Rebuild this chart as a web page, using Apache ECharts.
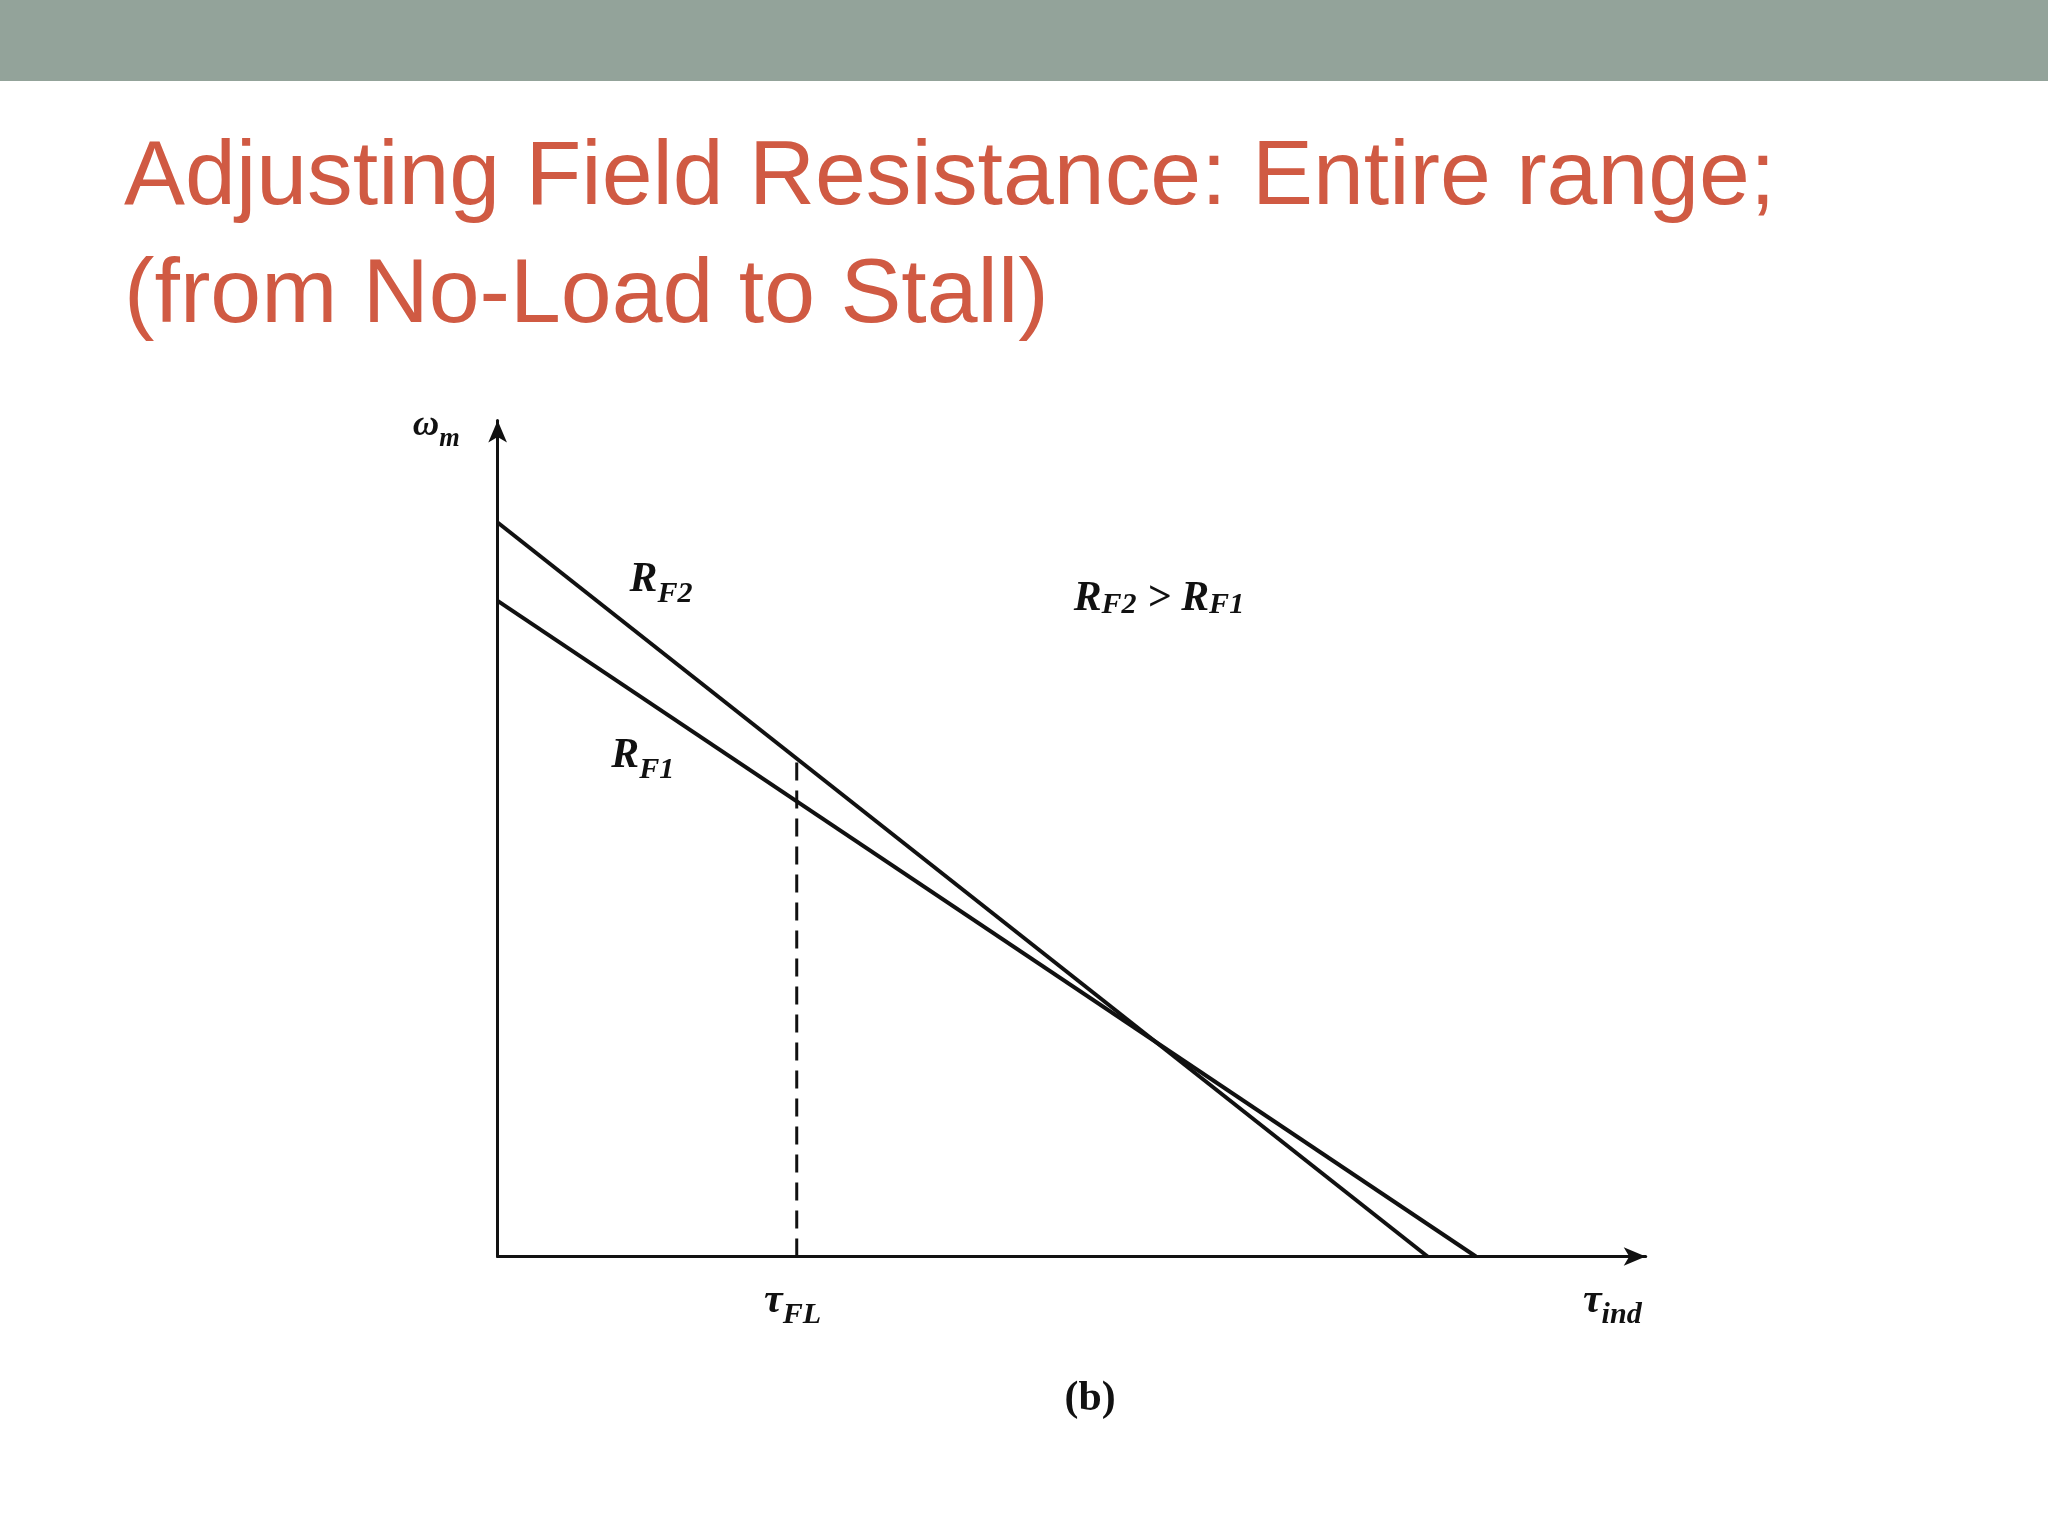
<!DOCTYPE html>
<html><head><meta charset="utf-8">
<script src="https://cdn.jsdelivr.net/npm/echarts@6/dist/echarts.min.js"></script>
<style>html,body{margin:0;padding:0;background:#fff}#c{width:2048px;height:1536px}</style>
</head><body><div id="c"></div>
<script>
const rf2 = [[0,562],[712,0]];
const rf1 = [[0,502],[749,0]];
const tauFL = [[229,0],[229,381]];
const s = 2048/1568;
const chart = echarts.init(document.getElementById('c'));
const serif = '"Liberation Serif","DejaVu Serif",serif';
function sub(x,y,main,subt,size){
  return {type:'text',left:x*s,top:y*s,style:{text:'{m|'+main+'}{s|'+subt+'}',rich:{
    m:{fontFamily:serif,fontStyle:'italic',fontWeight:'bold',fontSize:size*s,fill:'#111'},
    s:{fontFamily:serif,fontStyle:'italic',fontWeight:'bold',fontSize:size*0.72*s,fill:'#111',verticalAlign:'bottom',padding:[0,0,-6*s,0]}}}};
}
chart.setOption({
  animation:false,
  grid:{left:381*s,right:2048-1260*s,top:322*s,bottom:1536-962*s},
  xAxis:{type:'value',min:0,max:879,axisLine:{lineStyle:{color:'#111',width:3},symbol:['none','arrow'],symbolSize:[14,22]},axisTick:{show:false},axisLabel:{show:false},splitLine:{show:false}},
  yAxis:{type:'value',min:0,max:640,axisLine:{show:true,lineStyle:{color:'#111',width:3},symbol:['none','arrow'],symbolSize:[14,22]},axisTick:{show:false},axisLabel:{show:false},splitLine:{show:false}},
  series:[
    {type:'line',data:rf2,symbol:'none',lineStyle:{color:'#111',width:4}},
    {type:'line',data:rf1,symbol:'none',lineStyle:{color:'#111',width:4}},
    {type:'line',data:tauFL,symbol:'none',lineStyle:{color:'#111',width:3,type:[18,10]}}
  ],
  graphic:[
    {type:'rect',left:0,top:0,shape:{width:2048,height:62*s},style:{fill:'#93a39a'}},
    {type:'text',left:95*s,top:92*s,style:{text:'Adjusting Field Resistance: Entire range;\n(from No-Load to Stall)',fontFamily:'Arial,"Liberation Sans",sans-serif',fontSize:70*s,lineHeight:90*s,fill:'#d05a43'}},
    sub(316,312,'ω','m',28),
    sub(482,428,'R','F2',32),
    sub(468,563,'R','F1',32),
    {type:'text',left:822*s,top:443*s,style:{text:'{m|R}{s|F2}{m| > R}{s|F1}',rich:{
      m:{fontFamily:serif,fontStyle:'italic',fontWeight:'bold',fontSize:32*s,fill:'#111'},
      s:{fontFamily:serif,fontStyle:'italic',fontWeight:'bold',fontSize:23*s,fill:'#111',verticalAlign:'bottom'}}}},
    sub(585,980,'τ','FL',32),
    sub(1212,980,'τ','ind',32),
    {type:'text',left:815*s,top:1055*s,style:{text:'(b)',fontFamily:serif,fontWeight:'bold',fontSize:32*s,fill:'#111'}}
  ]
});
</script></body></html>
